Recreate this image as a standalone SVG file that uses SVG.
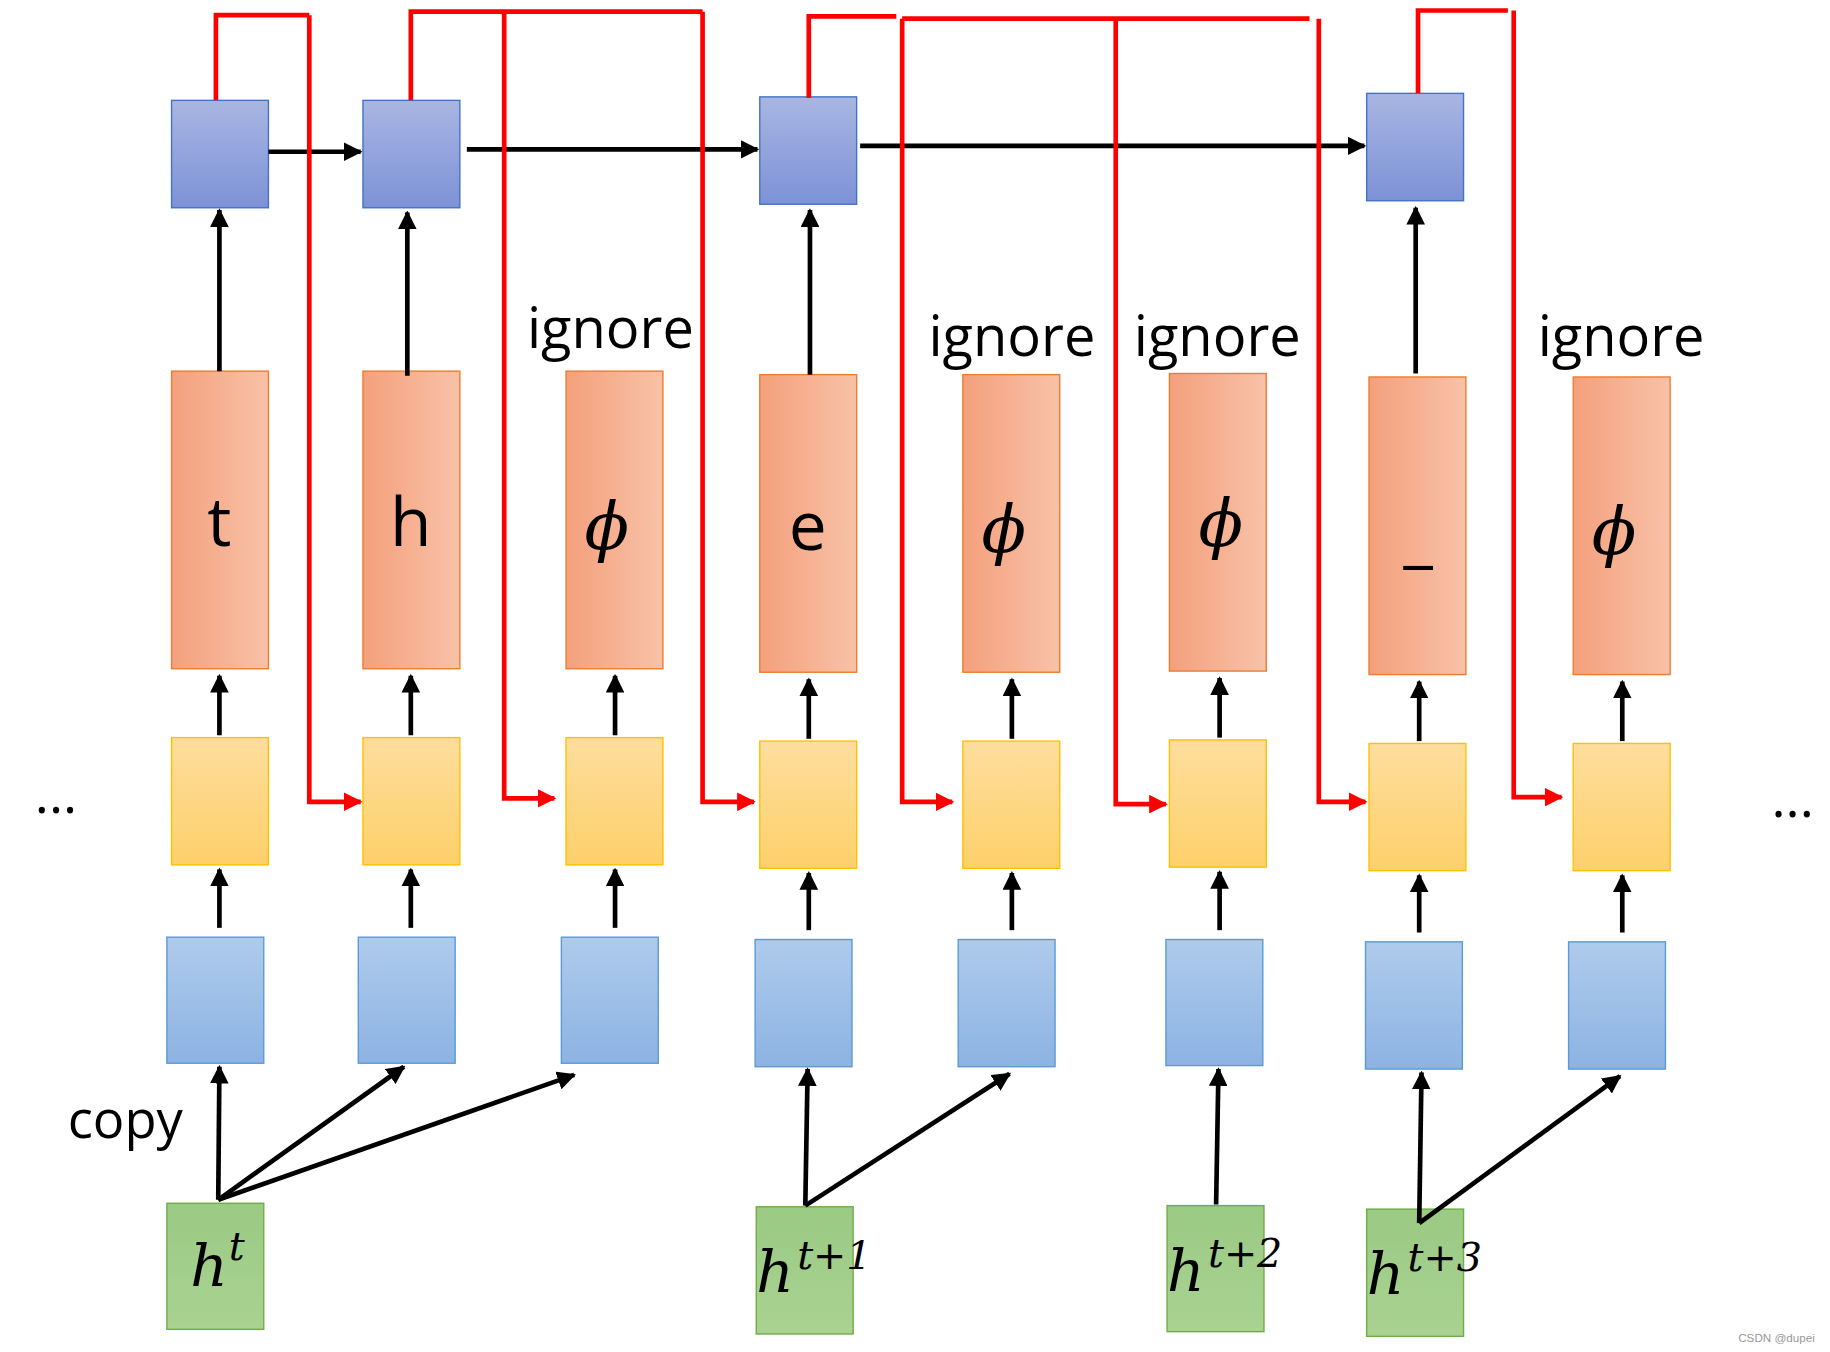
<svg xmlns="http://www.w3.org/2000/svg" width="1830" height="1352" viewBox="0 0 1830 1352">
<defs>
<linearGradient id="go" x1="0" y1="0" x2="1" y2="0"><stop offset="0" stop-color="#F4A07C"/><stop offset="1" stop-color="#F8C2A8"/></linearGradient>
<linearGradient id="gy" x1="0" y1="0" x2="0" y2="1"><stop offset="0" stop-color="#FEDE9E"/><stop offset="1" stop-color="#FDD06A"/></linearGradient>
<linearGradient id="gb" x1="0" y1="0" x2="0" y2="1"><stop offset="0" stop-color="#AECBEB"/><stop offset="1" stop-color="#8DB3E3"/></linearGradient>
<linearGradient id="gt" x1="0" y1="0" x2="0" y2="1"><stop offset="0" stop-color="#A9B6E3"/><stop offset="1" stop-color="#7D92D6"/></linearGradient>
<linearGradient id="gg" x1="0" y1="0" x2="0" y2="1"><stop offset="0" stop-color="#9ACA84"/><stop offset="1" stop-color="#AAD291"/></linearGradient>
<marker id="ak" viewBox="0 0 10 10" refX="9" refY="5" markerWidth="4" markerHeight="4" orient="auto"><path d="M0,0L10,5L0,10z" fill="#000"/></marker>
<marker id="ar" viewBox="0 0 10 10" refX="9" refY="5" markerWidth="4" markerHeight="4" orient="auto"><path d="M0,0L10,5L0,10z" fill="#f00"/></marker>
</defs>
<style>
.o{fill:url(#go);stroke:#ED7D31;stroke-width:1.2}
.y{fill:url(#gy);stroke:#FFC000;stroke-width:1.2}
.b{fill:url(#gb);stroke:#5B9BD5;stroke-width:1.2}
.t{fill:url(#gt);stroke:#4472C4;stroke-width:1.2}
.g{fill:url(#gg);stroke:#70AD47;stroke-width:1.2}
.k{stroke:#000;stroke-width:4;fill:none;marker-end:url(#ak)}
.r{stroke:#f00;stroke-width:4;fill:none}
.ra{stroke:#f00;stroke-width:4;fill:none;marker-end:url(#ar)}
.s{font-family:"Open Sans","Liberation Sans",sans-serif;fill:#000;font-weight:500}
.m{font-family:"DejaVu Serif","Liberation Serif",serif;font-style:italic;fill:#000}
</style>
<g transform="scale(1.1671)">
<g id="top">
<rect class="t" x="147" y="86" width="83" height="92"/>
<rect class="t" x="311" y="86" width="83" height="92"/>
<rect class="t" x="651" y="83" width="83" height="92"/>
<rect class="t" x="1171" y="80" width="83" height="92"/>
</g>
<g id="orange">
<rect class="o" x="147" y="318" width="83" height="255"/><text class="s" x="188" y="468" font-size="58" text-anchor="middle">t</text>
<rect class="o" x="311" y="318" width="83" height="255"/><text class="s" x="352" y="468" font-size="58" text-anchor="middle">h</text>
<rect class="o" x="485" y="318" width="83" height="255"/><text class="m" x="520" y="470" font-size="56" text-anchor="middle">ϕ</text>
<rect class="o" x="651" y="321" width="83" height="255"/><text class="s" x="692" y="471" font-size="58" text-anchor="middle">e</text>
<rect class="o" x="825" y="321" width="83" height="255"/><text class="m" x="860" y="473" font-size="56" text-anchor="middle">ϕ</text>
<rect class="o" x="1002" y="320" width="83" height="255"/><text class="m" x="1046" y="468" font-size="56" text-anchor="middle">ϕ</text>
<rect class="o" x="1173" y="323" width="83" height="255"/><text class="s" x="1215" y="480" font-size="58" text-anchor="middle">_</text>
<rect class="o" x="1348" y="323" width="83" height="255"/><text class="m" x="1383" y="475" font-size="56" text-anchor="middle">ϕ</text>
</g>
<g id="labels">
<text class="s" x="523" y="298" font-size="48" text-anchor="middle">ignore</text>
<text class="s" x="867" y="305" font-size="48" text-anchor="middle">ignore</text>
<text class="s" x="1043" y="305" font-size="48" text-anchor="middle">ignore</text>
<text class="s" x="1389" y="305" font-size="48" text-anchor="middle">ignore</text>
<text class="s" x="58" y="975" font-size="45">copy</text>
<text class="s" x="48" y="697" font-size="46" text-anchor="middle">...</text>
<text class="s" x="1536" y="700" font-size="46" text-anchor="middle">...</text>
</g>
<g id="green">
<rect class="g" x="143" y="1031" width="83" height="108"/>
<text class="m" x="163" y="1102" font-size="50">h</text><text class="m" x="196" y="1080" font-size="34">t</text>
<rect class="g" x="648" y="1034" width="83" height="109"/>
<text class="m" x="648" y="1107" font-size="50">h</text><text class="m" x="683" y="1087" font-size="34">t+1</text>
<rect class="g" x="1000" y="1033" width="83" height="108"/>
<text class="m" x="1000" y="1106" font-size="50">h</text><text class="m" x="1035" y="1086" font-size="34">t+2</text>
<rect class="g" x="1171" y="1036" width="83" height="109"/>
<text class="m" x="1171" y="1109" font-size="50">h</text><text class="m" x="1206" y="1089" font-size="34">t+3</text>
</g>
<g id="yellow">
<rect class="y" x="147" y="632" width="83" height="109"/>
<rect class="y" x="311" y="632" width="83" height="109"/>
<rect class="y" x="485" y="632" width="83" height="109"/>
<rect class="y" x="651" y="635" width="83" height="109"/>
<rect class="y" x="825" y="635" width="83" height="109"/>
<rect class="y" x="1002" y="634" width="83" height="109"/>
<rect class="y" x="1173" y="637" width="83" height="109"/>
<rect class="y" x="1348" y="637" width="83" height="109"/>
</g>
<g id="blue">
<rect class="b" x="143" y="803" width="83" height="108"/>
<rect class="b" x="307" y="803" width="83" height="108"/>
<rect class="b" x="481" y="803" width="83" height="108"/>
<rect class="b" x="647" y="805" width="83" height="109"/>
<rect class="b" x="821" y="805" width="83" height="109"/>
<rect class="b" x="999" y="805" width="83" height="108"/>
<rect class="b" x="1170" y="807" width="83" height="109"/>
<rect class="b" x="1344" y="807" width="83" height="109"/>
</g>
<g id="connectors">
<path class="k" d="M230,130H309"/>
<path class="k" d="M400,128H649"/>
<path class="k" d="M737,125H1169"/>
<path class="k" d="M188,318V180"/>
<path class="k" d="M349,322V182"/>
<path class="k" d="M694,321V180"/>
<path class="k" d="M1213,320V178"/>
<path class="k" d="M188,630V579"/><path class="k" d="M352,630V579"/><path class="k" d="M527,630V579"/><path class="k" d="M693,633V582"/>
<path class="k" d="M867,633V582"/><path class="k" d="M1045,632V581"/><path class="k" d="M1216,635V584"/><path class="k" d="M1390,635V584"/>
<path class="k" d="M188,795V745"/><path class="k" d="M352,795V745"/><path class="k" d="M527,795V745"/><path class="k" d="M693,797V748"/>
<path class="k" d="M867,797V748"/><path class="k" d="M1045,797V747"/><path class="k" d="M1216,799V750"/><path class="k" d="M1390,799V750"/>
<path class="k" d="M187,1028L188,914"/>
<path class="k" d="M187,1028L346,914"/>
<path class="k" d="M187,1028L492,921"/>
<path class="k" d="M690,1033L692,916"/>
<path class="k" d="M690,1033L865,920"/>
<path class="k" d="M1042,1032L1044,916"/>
<path class="k" d="M1216,1048L1218,919"/>
<path class="k" d="M1216,1048L1388,922"/>
<path class="r" d="M185,86V13H263V15"/><path class="ra" d="M265,13V687H309"/>
<path class="r" d="M352,86V10H602"/><path class="ra" d="M432,10V684H475"/><path class="ra" d="M602,10V687H646"/>
<path class="r" d="M693,84V14H768"/><path class="r" d="M773,16H1122"/>
<path class="ra" d="M773,16V687H816"/><path class="ra" d="M956,16V689H999"/><path class="ra" d="M1130,16V687H1170"/>
<path class="r" d="M1215,80V9H1292"/><path class="ra" d="M1297,9V683H1338"/>
</g>
<text x="1555" y="1150" font-size="10" fill="#999" text-anchor="end" font-family="Liberation Sans,sans-serif">CSDN @dupei</text>
</g>
</svg>
